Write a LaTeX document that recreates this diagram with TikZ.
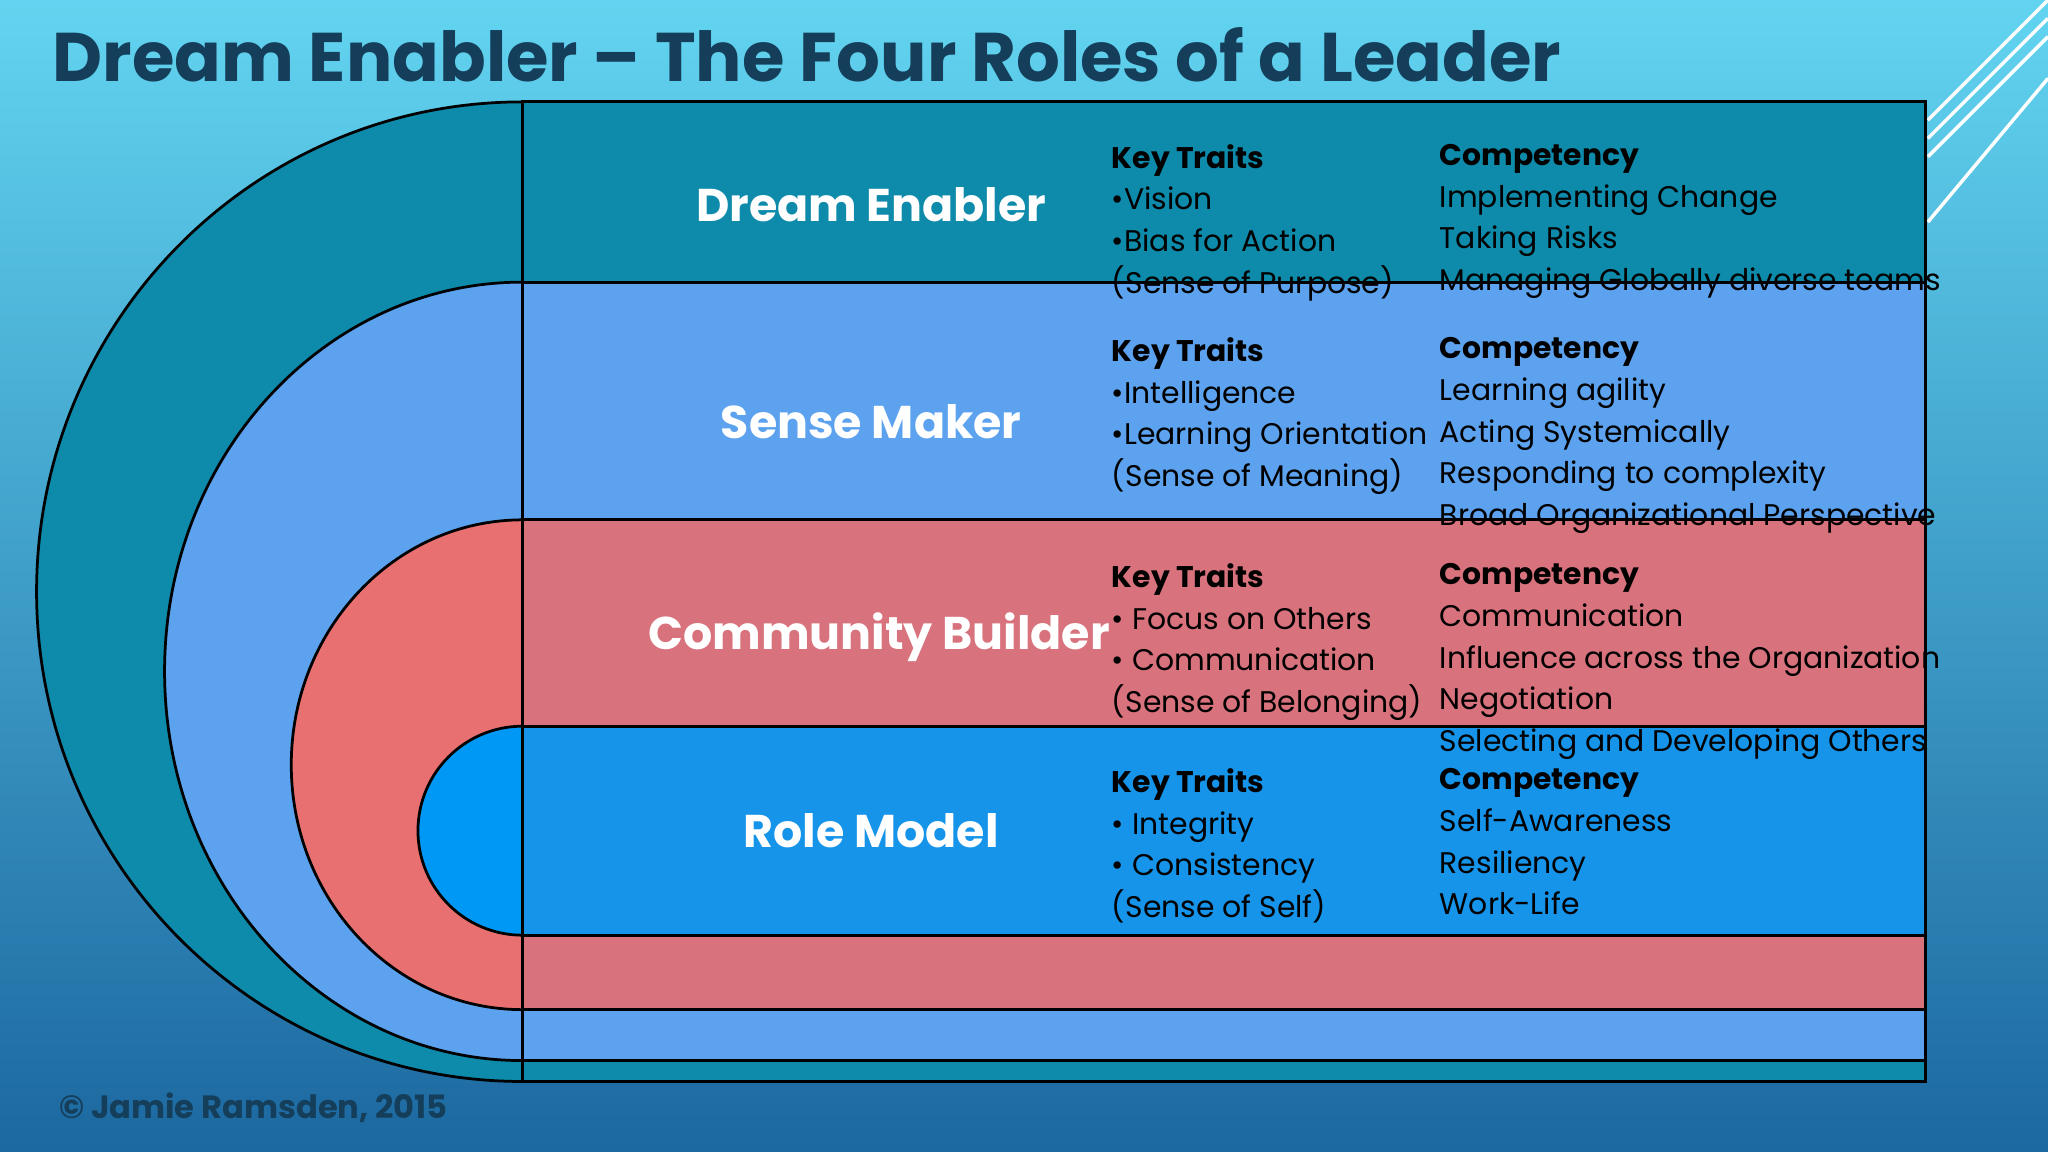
\documentclass[tikz,border=0pt]{standalone}
\usepackage{fontspec}
\setmainfont{Poppins}
\usetikzlibrary{positioning}
\definecolor{bgtop}{RGB}{98,212,240}
\definecolor{bgbot}{RGB}{28,104,160}
\definecolor{titlecol}{RGB}{20,62,90}
\definecolor{dreamcol}{RGB}{14,138,170}
\definecolor{sensecol}{RGB}{92,162,238}
\definecolor{commcol}{RGB}{216,114,124}
\definecolor{commarc}{RGB}{232,112,112}
\definecolor{rolecol}{RGB}{22,148,234}
\definecolor{rolearc}{RGB}{0,152,245}
\tikzset{
  band/.style={draw=black, line width=1.2pt},
  rolename/.style={font=\bfseries\fontsize{20}{24}\selectfont, text=white},
  info/.style={anchor=north west, align=left, inner sep=0pt, font=\fontsize{13}{18.2}\selectfont, text=black},
}
\begin{document}
\begin{tikzpicture}[x=0.02cm, y=-0.02cm]
% Background
\shade[top color=bgtop, bottom color=bgbot] (0,0) rectangle (1568,882);
\useasboundingbox (0,0) rectangle (1568,882);

% Decorative lines
\foreach \d in {0,14,28} {
  \draw[white, line width=1.5pt] (1568,0+\d) -- (1476,92+\d);
}
\draw[white, line width=1.5pt] (1568,60) -- (1476,170);

% Title
\node[anchor=west, text=titlecol, font=\bfseries\fontsize{30}{36}\selectfont, inner sep=0pt] (title) at (40,42) {Dream Enabler – The Four Roles of a Leader};

% Semicircles
\fill[dreamcol, band] (400,78) arc[start angle=270, end angle=90, x radius=372, y radius=375] -- cycle;
\fill[sensecol, band] (400,216) arc[start angle=270, end angle=90, x radius=274, y radius=298] -- cycle;
\fill[commarc, band] (400,398) arc[start angle=270, end angle=90, x radius=177, y radius=187.5] -- cycle;
\fill[rolearc, band] (400,556) arc[start angle=270, end angle=90, x radius=80, y radius=80] -- cycle;

% Bands
\fill[dreamcol, band] (400,78) rectangle (1474,216);
\fill[sensecol, band] (400,216) rectangle (1474,398);
\fill[commcol, band] (400,398) rectangle (1474,556);
\fill[rolecol, band] (400,556) rectangle (1474,716);
\fill[commcol, band] (400,716) rectangle (1474,773);
\fill[sensecol, band] (400,773) rectangle (1474,812);
\fill[dreamcol, band] (400,812) rectangle (1474,828);

% Role names
\node[rolename] (dream) at (667,157) {Dream Enabler};
\node[rolename] (sense) at (667,323) {Sense Maker};
\node[rolename] (comm) at (673,488) {Community Builder};
\node[rolename] (role) at (667,636) {Role Model};

% Traits
\node[info] (dreamkt) at (851,110) {\textbf{Key Traits}\\•Vision\\•Bias for Action\\(Sense of Purpose)};
\node[info] (dreamcp) at (1102,110) {\textbf{Competency}\\Implementing Change\\Taking Risks\\Managing Globally diverse teams};
\node[info] (sensekt) at (851,258) {\textbf{Key Traits}\\•Intelligence\\•Learning Orientation\\(Sense of Meaning)};
\node[info] (sensecp) at (1102,258) {\textbf{Competency}\\Learning agility\\Acting Systemically\\Responding to complexity\\Broad Organizational Perspective};
\node[info] (commkt) at (851,431) {\textbf{Key Traits}\\• Focus on Others\\• Communication\\(Sense of Belonging)};
\node[info] (commcp) at (1102,431) {\textbf{Competency}\\Communication\\Influence across the Organization\\Negotiation\\Selecting and Developing Others};
\node[info] (rolekt) at (851,588) {\textbf{Key Traits}\\• Integrity\\• Consistency\\(Sense of Self)};
\node[info] (rolecp) at (1102,588) {\textbf{Competency}\\Self-Awareness\\Resiliency\\Work-Life};

% Copyright
\node[anchor=west, inner sep=0pt, text=titlecol, font=\bfseries\fontsize{14}{16}\selectfont] (copy) at (45,848) {© Jamie Ramsden, 2015};
\end{tikzpicture}
\end{document}
